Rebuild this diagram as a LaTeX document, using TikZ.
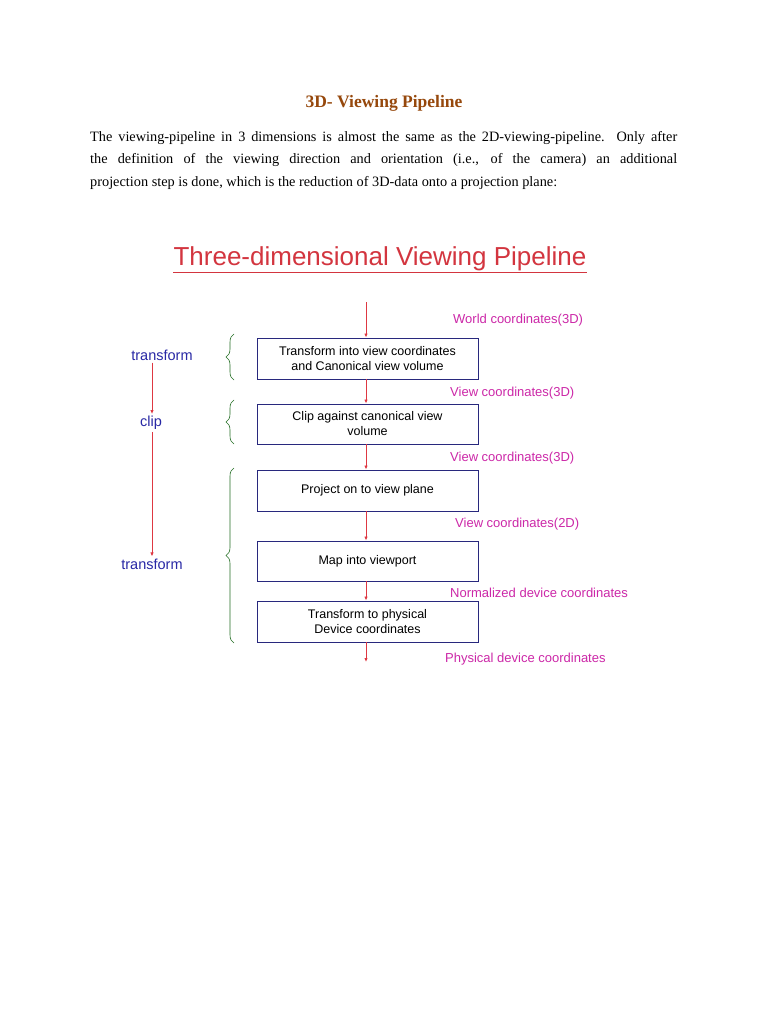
\documentclass[tikz,border=0pt]{standalone}
\usepackage{fontspec}
\setmainfont{Liberation Serif}
\setsansfont{Liberation Sans}
\usetikzlibrary{arrows.meta,positioning,calc,decorations.pathreplacing}
\definecolor{Heading}{RGB}{150,72,12}
\definecolor{Flow}{RGB}{222,56,66}
\definecolor{Coord}{RGB}{204,40,168}
\definecolor{Stage}{RGB}{40,40,165}
\definecolor{Brace}{RGB}{36,110,36}
\definecolor{Frame}{RGB}{40,40,125}

\begin{document}
\begin{tikzpicture}[x=1pt,y=-1pt,
  stagebox/.style={draw=Frame,line width=0.9pt,minimum width=221pt,align=center,
    inner sep=0pt,font=\sffamily\fontsize{12.5}{15}\selectfont},
  flow/.style={draw=Flow,line width=0.8pt,-{Latex[length=4pt,width=3.4pt]}},
  coordlabel/.style={anchor=west,text=Coord,inner sep=0pt,font=\sffamily\fontsize{13}{15}\selectfont},
  stagelabel/.style={text=Stage,inner sep=2pt,font=\sffamily\fontsize{14.5}{16}\selectfont},
  bracket/.style={draw=Brace,line width=0.6pt,decorate,decoration={brace,amplitude=8pt}}]
        \useasboundingbox[fill=white] (0,0) rectangle (768,1024);
        % page heading and paragraph
        \node[text=Heading,font=\bfseries\fontsize{17.5}{20}\selectfont] (head) at (384,103) {3D- Viewing Pipeline};
        \node[anchor=north west,text width=587pt,align=justify,inner sep=0pt,
          font=\fontsize{14.3}{22.6}\selectfont] (para) at (90,131)
          {The viewing-pipeline in 3 dimensions is almost the same as the 2D-viewing-pipeline. Only after\linebreak
           the definition of the viewing direction and orientation (i.e., of the camera) an additional\linebreak
           projection step is done, which is the reduction of 3D-data onto a projection plane:};
        % slide title
        \node[text=Flow!95!black,inner sep=0pt,font=\sffamily\fontsize{26}{30}\selectfont] (ttl) at (380,259)
          {Three-dimensional Viewing Pipeline};
        \draw[Flow!95!black,line width=1.6pt] ($(ttl.south west)+(0,1)$) -- ($(ttl.south east)+(0,1)$);
        % pipeline stages
        \foreach \nm/\yy/\hh/\txt in {
          b1/358.5/41/{Transform into view coordinates\\and Canonical view volume},
          b2/424/40/{Clip against canonical view\\volume},
          b3/490.5/41/{Project on to view plane},
          b4/561/40/{Map into viewport},
          b5/621.5/41/{Transform to physical\\Device coordinates}}
        {
          \node[stagebox,minimum height=\hh pt] (\nm) at (367.5,\yy) {\txt};
        }
        \coordinate (src) at (366,302);
        \coordinate (dst) at (366,662);
        \draw[flow] (src) -- (src |- b1.north);
        \foreach \a/\b in {b1/b2,b2/b3,b3/b4,b4/b5}
          \draw[flow] (\a.south -| src) -- (\b.north -| src);
        \draw[flow] (b5.south -| src) -- (dst);
        % coordinate systems
        \foreach \x/\y/\txt in {
          453/320/World coordinates(3D),
          450/393/View coordinates(3D),
          450/458/View coordinates(3D),
          455/524/View coordinates(2D),
          450/593/Normalized device coordinates,
          445/659/Physical device coordinates}
        {
          \node[coordlabel] at (\x,\y) {\txt};
        }
        % stages on the left
        \node[stagelabel] (t1) at (162,355) {transform};
        \node[stagelabel] (cl) at (151,423) {clip};
        \node[stagelabel] (t2) at (152,564) {transform};
        \draw[flow] (t1.south -| 152,0) -- (cl.north -| 152,0);
        \draw[flow] (cl.south -| 152,0) -- (t2.north -| 152,0);
        % grouping braces
        \draw[bracket] (234,380) -- (234,334);
        \draw[bracket] (234,444) -- (234,400);
        \draw[bracket] (234,643) -- (234,468);
      \end{tikzpicture}
\end{document}
